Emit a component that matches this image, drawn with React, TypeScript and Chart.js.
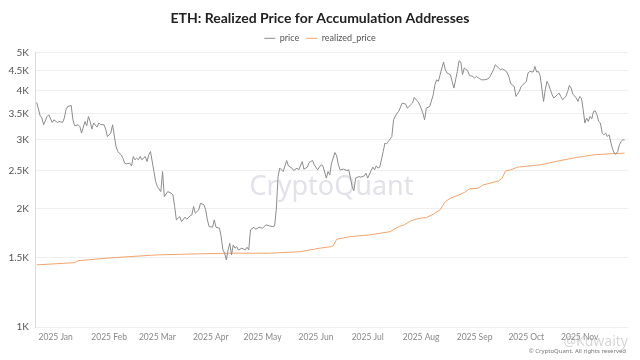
import React, { useEffect, useRef } from "react";
import { Chart, registerables } from "chart.js";

Chart.register(...registerables);

// Day offsets from 2025-01-01
const priceDays = [
  -11, -9, -8, -7, -5, -4, -2, -1, 1, 2, 4, 5, 6, 7, 9, 10, 11, 13, 14, 15, 17, 18, 19, 20, 21, 22, 24, 25, 26, 28, 29, 30,
  32, 33, 35, 36, 38, 39, 40, 41, 43, 44, 45, 46, 47, 48, 49, 50, 52, 53, 54, 55, 57, 58, 59, 61, 62, 63, 65, 67, 68, 69,
  70, 72, 73, 75, 76, 78, 79, 80, 81, 83, 84, 86, 87, 88, 89, 91, 92, 93, 95, 96, 97, 98, 99, 100, 101, 102, 103, 104, 105,
  106, 108, 110, 111, 112, 113, 115, 116, 118, 120, 122, 124, 126, 127, 128, 129, 130, 132, 134, 135, 137, 138, 140, 141,
  143, 144, 146, 147, 149, 150, 152, 153, 154, 155, 157, 158, 159, 160, 162, 163, 164, 165, 167, 169, 170, 171, 172, 173,
  174, 176, 177, 179, 180, 181, 183, 184, 185, 186, 187, 188, 190, 191, 192, 193, 195, 196, 198, 199, 201, 203, 204, 206,
  207, 208, 210, 211, 213, 214, 215, 217, 219, 220, 221, 222, 224, 225, 226, 227, 229, 230, 231, 232, 233, 234, 235, 236,
  237, 239, 240, 242, 243, 244, 246, 247, 249, 251, 252, 254, 255, 256, 258, 259, 261, 262, 263, 264, 266, 267, 269, 270,
  271, 273, 274, 275, 277, 278, 279, 280, 281, 282, 283, 284, 285, 286, 287, 288, 289, 291, 292, 293, 294, 296, 297, 298,
  299, 300, 302, 303, 304, 305, 306, 307, 308, 309, 310, 311, 312, 313, 314, 315, 316, 317, 318, 319, 320, 321, 322, 323,
  324, 325, 326, 327, 328, 329, 330,
];
const priceValues = [
  3735, 3455, 3410, 3277, 3440, 3475, 3322, 3374, 3322, 3341, 3322, 3408, 3579, 3649, 3670, 3374, 3258, 3277, 3244, 3121,
  3341, 3258, 3440, 3341, 3195, 3310, 3233, 3310, 3282, 3277, 3195, 3059,
  3121, 3277, 2884, 2801, 2747, 2694, 2616, 2606, 2616, 2575, 2720, 2668, 2694, 2668, 2720, 2668, 2720, 2641, 2747, 2801,
  2490, 2348, 2280, 2214, 2490, 2150, 2214, 2193, 2172, 2028,
  1875, 1912, 1856, 1905, 1883, 1920, 1931, 2028, 1950, 1989, 2068, 2048, 1989, 1875, 1803, 1796, 1875, 1796, 1786, 1700,
  1572, 1542, 1482, 1572, 1635, 1527, 1619, 1588, 1603,
  1572, 1588, 1572, 1597, 1572, 1768, 1796, 1775, 1796, 1786, 1821, 1810, 1803, 1810, 2000, 2420, 2541, 2490, 2657, 2575,
  2541, 2505, 2541, 2515,
  2641, 2526, 2556, 2626, 2657, 2590, 2516, 2556, 2590, 2575, 2396, 2490, 2443, 2616, 2785, 2731, 2590, 2516, 2526, 2505,
  2516, 2396, 2280, 2227,
  2396, 2418, 2410, 2428, 2467, 2396, 2505, 2556, 2516, 2575, 2541, 2556, 2801, 2943, 2931, 2971, 3059, 3374, 3510, 3543,
  3722, 3700, 3614, 3685,
  3722, 3847, 3758, 3700, 3510, 3374, 3614, 3649, 3908, 4145, 4268, 4226, 4572, 4736, 4527, 4440, 4395, 4226, 4065, 4268,
  4482, 4772, 4736, 4395,
  4572, 4500, 4378, 4352, 4311, 4352, 4293, 4268, 4268, 4293, 4352, 4527, 4662, 4616, 4527, 4553, 4500, 4440, 4330, 4169,
  4104, 3870, 3994, 4104,
  4145, 4226, 4440, 4482, 4466, 4616, 4466, 4482, 4378, 4065, 3758, 4024, 4226, 4145, 4024, 3908, 3834, 3908, 3948, 3870,
  3795, 3870, 3985, 4128,
  4065, 3924, 3834, 3758, 3870, 3834, 3579, 3310, 3408, 3341, 3440, 3394, 3543, 3558, 3475, 3341, 3310, 3121, 3090, 3121,
  3059, 3090, 2960, 2846,
  2775, 2758, 2801, 2913, 2971, 3000, 2995,
];

const realizedDays = [
  -11, 11, 13, 34, 59, 82, 101, 124, 142, 153, 160, 161, 163, 171, 182, 194, 199, 202, 206, 211, 215, 219, 223, 226, 229,
  234, 237, 240, 245, 248, 252, 257, 259, 261, 264, 268, 281, 292, 302, 312, 321, 330,
];
const realizedValues = [
  1440, 1459, 1476, 1503, 1527, 1536, 1542, 1542, 1556, 1588, 1603, 1610, 1674, 1700, 1717, 1750, 1803, 1820, 1864, 1894,
  1900, 1939, 1989, 2088, 2130, 2172, 2201, 2250, 2259, 2303, 2326, 2358, 2396, 2501, 2516, 2556, 2590, 2652, 2704, 2747,
  2763, 2775,
];

const yTickValues = [1000, 1500, 2000, 2500, 3000, 3500, 4000, 4500, 5000];
const monthStarts = [0, 31, 59, 90, 120, 151, 181, 212, 243, 273, 304];
const monthLabels = [
  "2025 Jan", "2025 Feb", "2025 Mar", "2025 Apr", "2025 May", "2025 Jun",
  "2025 Jul", "2025 Aug", "2025 Sep", "2025 Oct", "2025 Nov",
];

export default function App() {
  const ref = useRef<HTMLCanvasElement>(null);

  useEffect(() => {
    if (!ref.current) return;
    const watermark = {
      id: "watermark",
      beforeDatasetsDraw(chart: any) {
        const { ctx, chartArea } = chart;
        ctx.save();
        ctx.font = "400 27px 'Noto Sans'";
        ctx.fillStyle = "#e2e3e8";
        ctx.textAlign = "center";
        ctx.textBaseline = "middle";
        ctx.fillText("CryptoQuant", (chartArea.left + chartArea.right) / 2, (chartArea.top + chartArea.bottom) / 2 - 3);
        ctx.restore();
      },
      afterDraw(chart: any) {
        const { ctx, chartArea } = chart;
        ctx.save();
        ctx.textAlign = "right";
        ctx.textBaseline = "middle";
        ctx.font = "14px 'Noto Sans'";
        ctx.fillStyle = "rgba(175,175,175,0.5)";
        ctx.fillText("@Kuwaity", chartArea.right, 342);
        ctx.font = "6px 'Noto Sans'";
        ctx.fillStyle = "#777";
        ctx.fillText("© CryptoQuant. All rights reserved", chartArea.right - 2, 351);
        ctx.restore();
      },
    };

    const chart = new Chart(ref.current, {
      type: "line",
      data: {
        datasets: [
          {
            label: "price",
            data: priceDays.map((d, i) => ({ x: d, y: priceValues[i] })),
            borderColor: "#8c8c8c",
            backgroundColor: "#8c8c8c",
            borderWidth: 1,
            pointRadius: 0,
            tension: 0,
          },
          {
            label: "realized_price",
            data: realizedDays.map((d, i) => ({ x: d, y: realizedValues[i] })),
            borderColor: "#f3a46c",
            backgroundColor: "#f3a46c",
            borderWidth: 1,
            pointRadius: 0,
            tension: 0,
          },
        ],
      },
      options: {
        animation: false,
        responsive: false,
        maintainAspectRatio: false,
        layout: { padding: { left: 0, right: 0, top: 0, bottom: 0 } },
        plugins: {
          title: {
            display: true,
            text: "ETH: Realized Price for Accumulation Addresses",
            font: { family: "Lato", size: 14, weight: "bold" },
            color: "#222",
            padding: { top: 10, bottom: 0 },
          },
          legend: {
            labels: {
              usePointStyle: true,
              pointStyle: "line",
              pointStyleWidth: 11,
              boxHeight: 8,
              font: { family: "Lato", size: 9 },
              color: "#555",
              padding: 7,
            },
          },
          tooltip: { enabled: false },
        },
        scales: {
          x: {
            type: "linear",
            min: -12,
            max: 332,
            grid: { display: false, drawTicks: false },
            border: { display: false },
            afterBuildTicks: (s: any) => {
              s.ticks = monthStarts.map((v) => ({ value: v }));
            },
            afterFit: (s: any) => {
              s.height = 33;
            },
            ticks: {
              autoSkip: false,
              maxRotation: 0,
              padding: 5,
              font: { family: "Lato", size: 8.5 },
              color: "#888",
              callback: (v: any) => monthLabels[monthStarts.indexOf(Number(v))],
            },
          },
          y: {
            type: "logarithmic",
            min: 1000,
            max: 5000,
            grid: { color: "#efefef", drawTicks: false },
            border: { color: "#dcdcdc" },
            afterBuildTicks: (s: any) => {
              s.ticks = yTickValues.map((v) => ({ value: v }));
            },
            afterFit: (s: any) => {
              s.width = 35;
            },
            ticks: {
              autoSkip: false,
              padding: 6,
              font: { family: "Lato", size: 10 },
              color: "#555",
              callback: (v: any) => Number(v) / 1000 + "K",
            },
          },
          yRight: {
            type: "linear",
            position: "right",
            display: true,
            grid: { display: false, drawTicks: false },
            border: { display: false },
            ticks: { display: false },
            afterFit: (s: any) => {
              s.width = 12;
            },
          },
        },
      },
      plugins: [watermark],
    } as any);
    return () => chart.destroy();
  }, []);

  return (
    <div style={{ position: "fixed", left: 0, top: 0, width: 640, height: 360, background: "#fff" }}>
      <canvas ref={ref} width={640} height={360} style={{ display: "block" }} />
    </div>
  );
}
